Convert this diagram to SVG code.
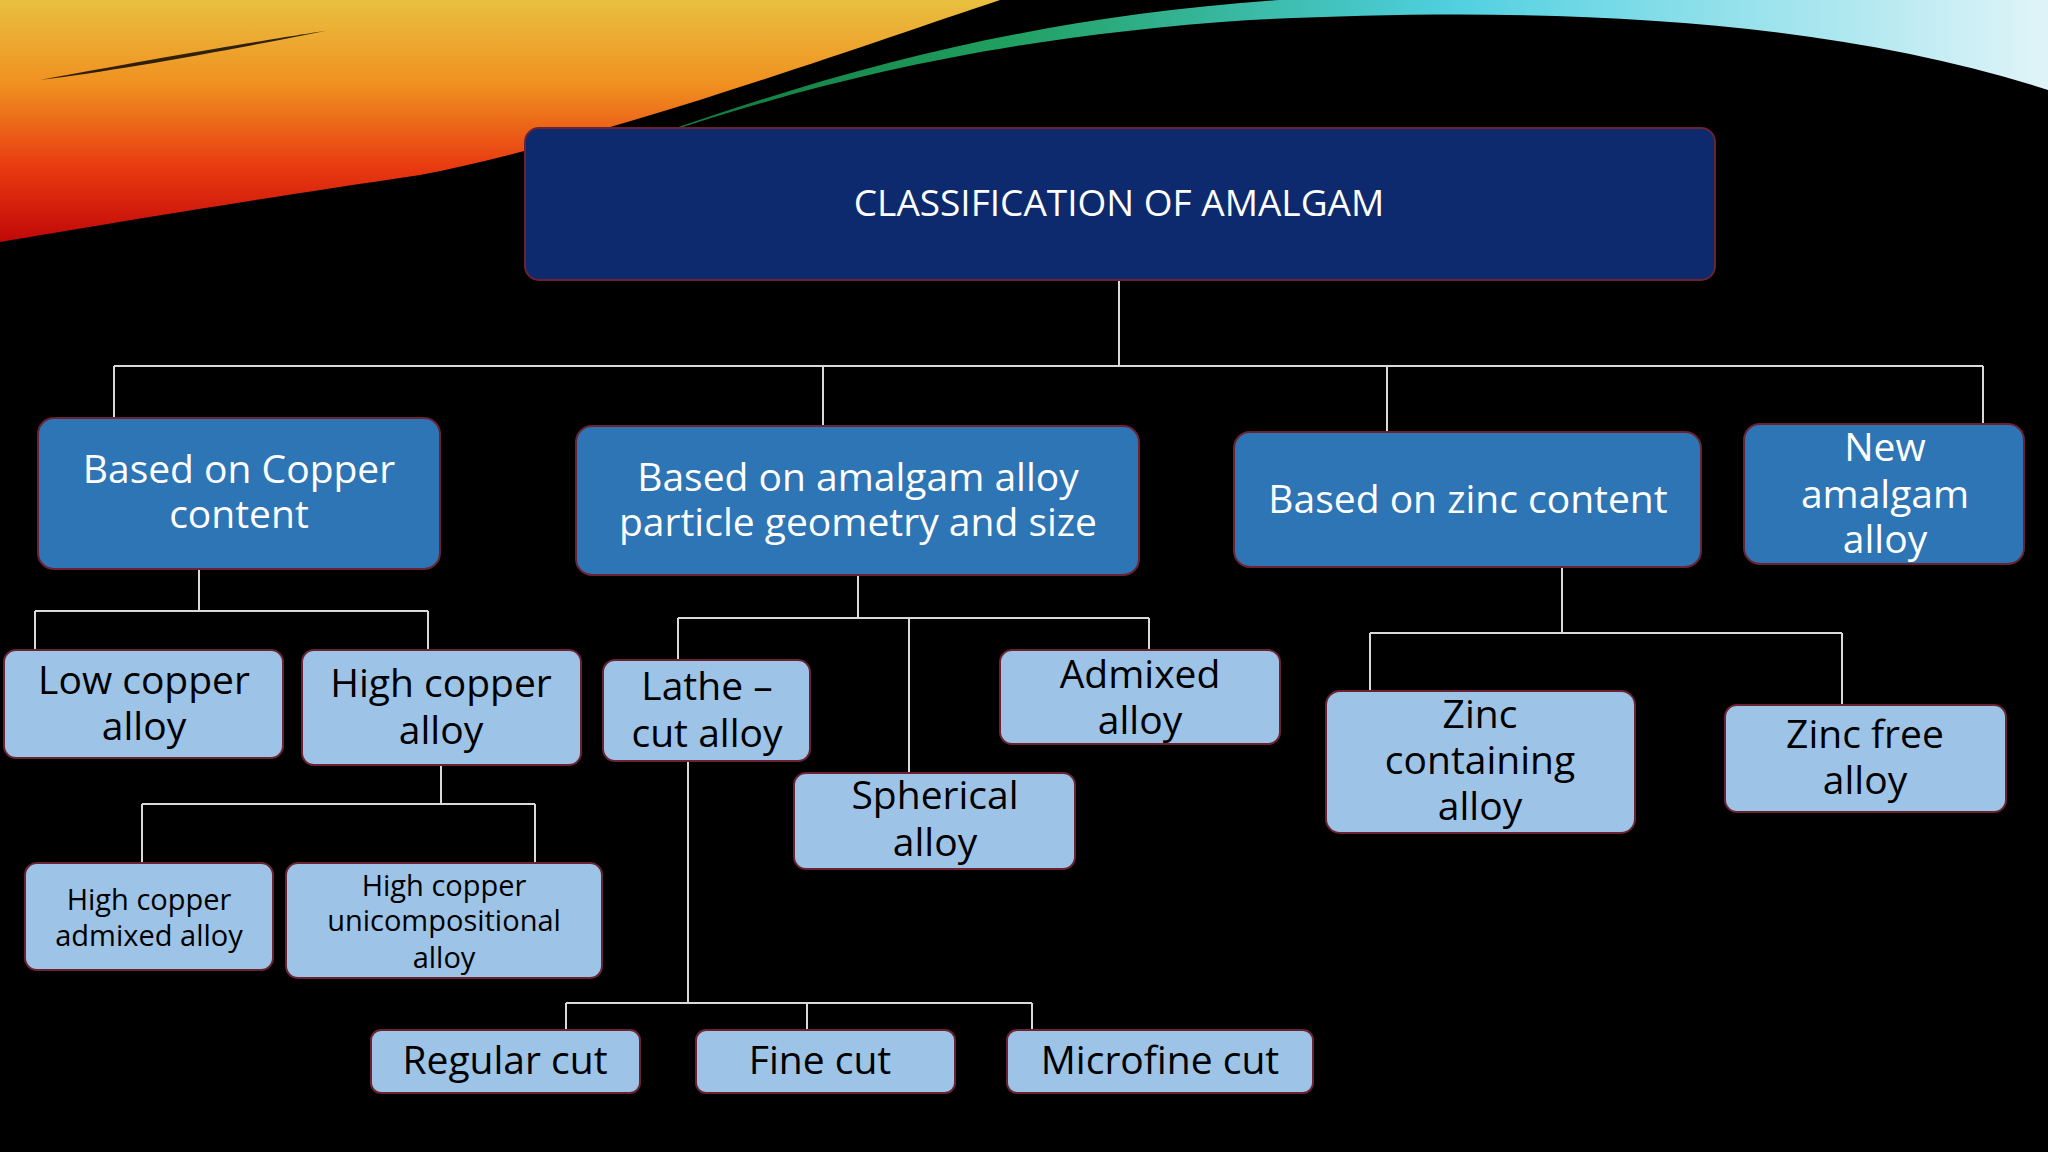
<svg xmlns="http://www.w3.org/2000/svg" width="2048" height="1152" viewBox="0 0 2048 1152">
<defs>
<linearGradient id="warm" x1="0" y1="0" x2="0" y2="1">
<stop offset="0" stop-color="#e8c040"/><stop offset="0.35" stop-color="#f09020"/><stop offset="0.7" stop-color="#e83810"/><stop offset="1" stop-color="#c00808"/>
</linearGradient>
<linearGradient id="cool" x1="0" y1="0" x2="1" y2="0">
<stop offset="0" stop-color="#0a6a30"/><stop offset="0.3" stop-color="#20a060"/><stop offset="0.6" stop-color="#50d0e0"/><stop offset="1" stop-color="#e0f4f8"/>
</linearGradient>
<style>
.c{stroke:#d9d9d9;stroke-width:2;fill:none}
.d{fill:#2e75b6;stroke:#6b2333;stroke-width:2}
.l{fill:#9dc3e6;stroke:#6b2333;stroke-width:2}
text{font-family:"Open Sans","Liberation Sans",sans-serif;text-anchor:middle;dominant-baseline:middle}
.dt{fill:#fff;font-size:39px}
.lt{fill:#000;font-size:39px}
.st{fill:#000;font-size:29px}
</style>
</defs>
<rect width="2048" height="1152" fill="#000"/>
<path d="M0,0 L1000,0 C850,50 600,140 420,175 C250,200 100,225 0,242 Z" fill="url(#warm)"/>
<path d="M40,80 C200,50 300,35 330,30 C230,50 120,70 40,80 Z" fill="#000" opacity="0.8"/>
<path d="M560,170 C750,100 950,40 1250,20 C1500,8 1800,10 2048,90 L2048,0 L1280,0 C1000,20 800,80 560,170 Z" fill="url(#cool)"/>
<g id="connectors">
<path class="c" d="M1119,280V366M114,366H1983M114,366V418M823,366V426M1387,366V432M1983,366V424"/>
<path class="c" d="M199,569V611M35,611H428M35,611V650M428,611V650"/>
<path class="c" d="M441,765V804M142,804H535M142,804V863M535,804V863"/>
<path class="c" d="M858,575V618M678,618H1149M678,618V660M909,618V773M1149,618V650"/>
<path class="c" d="M688,761V1003M566,1003H1032M566,1003V1030M807,1003V1030M1032,1003V1030"/>
<path class="c" d="M1562,567V633M1370,633H1842M1370,633V691M1842,633V705"/>
</g>
<g id="title"><rect x="525" y="128" width="1190" height="152" rx="14" fill="#0e2a6e" stroke="#6b2333" stroke-width="2"/><text x="1119" y="206" fill="#fff" font-size="37">CLASSIFICATION OF AMALGAM</text></g>
<g id="copper"><rect class="d" x="38" y="418" width="402" height="151" rx="16"/><text class="dt" x="239" y="473">Based on Copper</text><text class="dt" x="239" y="518">content</text></g>
<g id="geometry"><rect class="d" x="576" y="426" width="563" height="149" rx="16"/><text class="dt" x="858" y="481">Based on amalgam alloy</text><text class="dt" x="858" y="526">particle geometry and size</text></g>
<g id="zinc"><rect class="d" x="1234" y="432" width="467" height="135" rx="16"/><text class="dt" x="1468" y="503">Based on zinc content</text></g>
<g id="new"><rect class="d" x="1744" y="424" width="280" height="140" rx="16"/><text class="dt" x="1885" y="451">New</text><text class="dt" x="1885" y="498">amalgam</text><text class="dt" x="1885" y="543">alloy</text></g>
<g id="low"><rect class="l" x="4" y="650" width="279" height="108" rx="12"/><text class="lt" x="144" y="684">Low copper</text><text class="lt" x="144" y="730">alloy</text></g>
<g id="high"><rect class="l" x="302" y="650" width="279" height="115" rx="12"/><text class="lt" x="441" y="687">High copper</text><text class="lt" x="441" y="734">alloy</text></g>
<g id="hcadmixed"><rect class="l" x="25" y="863" width="248" height="107" rx="12"/><text class="st" x="149" y="902">High copper</text><text class="st" x="149" y="938">admixed alloy</text></g>
<g id="hcuni"><rect class="l" x="286" y="863" width="316" height="115" rx="12"/><text class="st" x="444" y="888">High copper</text><text class="st" x="444" y="923">unicompositional</text><text class="st" x="444" y="960">alloy</text></g>
<g id="lathe"><rect class="l" x="603" y="660" width="207" height="101" rx="12"/><text class="lt" x="707" y="690">Lathe –</text><text class="lt" x="707" y="737">cut alloy</text></g>
<g id="spherical"><rect class="l" x="794" y="773" width="281" height="96" rx="12"/><text class="lt" x="935" y="799">Spherical</text><text class="lt" x="935" y="846">alloy</text></g>
<g id="admixed"><rect class="l" x="1000" y="650" width="280" height="94" rx="12"/><text class="lt" x="1140" y="678">Admixed</text><text class="lt" x="1140" y="724">alloy</text></g>
<g id="regular"><rect class="l" x="371" y="1030" width="269" height="63" rx="10"/><text class="lt" x="505" y="1064">Regular cut</text></g>
<g id="fine"><rect class="l" x="696" y="1030" width="259" height="63" rx="10"/><text class="lt" x="820" y="1064">Fine cut</text></g>
<g id="microfine"><rect class="l" x="1007" y="1030" width="306" height="63" rx="10"/><text class="lt" x="1160" y="1064">Microfine cut</text></g>
<g id="zinccont"><rect class="l" x="1326" y="691" width="309" height="142" rx="14"/><text class="lt" x="1480" y="718">Zinc</text><text class="lt" x="1480" y="764">containing</text><text class="lt" x="1480" y="810">alloy</text></g>
<g id="zincfree"><rect class="l" x="1725" y="705" width="281" height="107" rx="12"/><text class="lt" x="1865" y="738">Zinc free</text><text class="lt" x="1865" y="784">alloy</text></g>
</svg>
